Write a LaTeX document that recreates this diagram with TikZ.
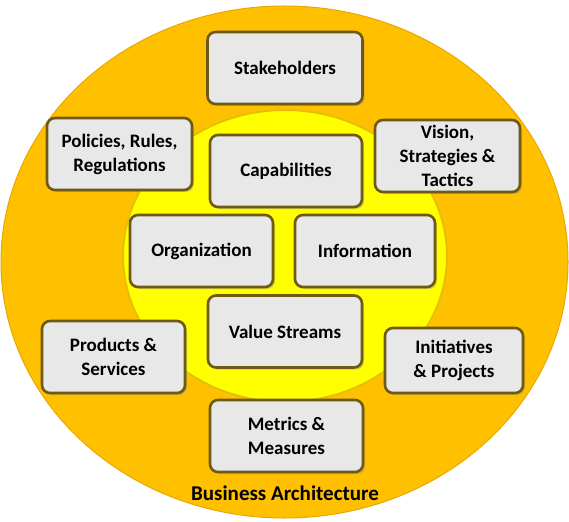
\documentclass[tikz,border=0pt]{standalone}
\usepackage{fontspec}
\setmainfont{Carlito}
\usetikzlibrary{shadows}
\definecolor{outerC}{HTML}{FFC000}
\definecolor{outerE}{HTML}{E8A800}
\definecolor{innerC}{HTML}{FFFF00}
\definecolor{innerE}{HTML}{E6C000}
\definecolor{boxE}{HTML}{6E5A14}
\definecolor{boxF}{HTML}{E8E8E8}
\begin{document}
\begin{tikzpicture}[x=1pt,y=-1pt,
  box/.style={draw=boxE, line width=2.6pt, rounded corners=8pt, fill=boxF,
    drop shadow={opacity=0.35, shadow xshift=2pt, shadow yshift=-2pt},
    font=\fontsize{19}{24}\selectfont\bfseries, align=center, text=black,
    minimum height=72pt, inner sep=2pt},
  ]
\useasboundingbox (0,0) rectangle (569,521);
\fill[white] (0,0) rectangle (569,521);
\fill[outerC, draw=outerE, line width=1pt] (284.5,262) ellipse [x radius=283.5, y radius=256];
\fill[innerC, draw=innerE, line width=2pt] (285,256) ellipse [x radius=162, y radius=146];
\node[box, minimum width=155pt] (stake) at (285,68) {Stakeholders};
\node[box, minimum width=145pt] (pol) at (119.5,154) {Policies, Rules,\\Regulations};
\node[box, minimum width=152pt] (cap) at (286,171) {Capabilities};
\node[box, minimum width=145pt] (vis) at (447.5,156) {Vision,\\Strategies \&\\Tactics};
\node[box, minimum width=143pt] (org) at (201.5,251) {Organization};
\node[box, minimum width=140pt] (info) at (365,251) {Information};
\node[box, minimum width=154pt] (val) at (285,331.5) {Value Streams};
\node[box, minimum width=143pt] (prod) at (113.5,357) {Products \&\\Services};
\node[box, minimum width=138pt, minimum height=65pt] (init) at (454,360.5) {Initiatives\\\& Projects};
\node[box, minimum width=153pt] (met) at (286.5,436) {Metrics \&\\Measures};
\node[font=\fontsize{21}{25}\selectfont\bfseries, text=black] (title) at (285,493) {Business Architecture};
\end{tikzpicture}
\end{document}
